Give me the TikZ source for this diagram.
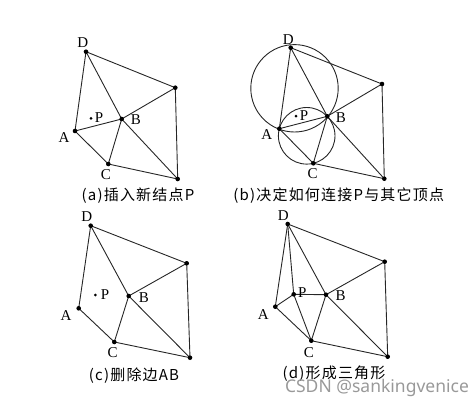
\documentclass[tikz,border=0pt]{standalone}
\usepackage{fontspec}
\setmainfont{Liberation Serif}
\newfontfamily\capfont[LetterSpace=8]{Noto Sans CJK SC}
\newfontfamily\markfont{Noto Sans}
\begin{document}
\begin{tikzpicture}[x=1pt,y=-1pt,line join=round,line cap=round]
	\tikzset{edge/.style={line width=0.9pt,black!85},
		vtx/.style={circle,fill=black,inner sep=0pt,minimum size=4.6pt},
		pdot/.style={circle,fill=black,inner sep=0pt,minimum size=3pt},
		lbl/.style={font=\fontsize{15}{15}\selectfont,inner sep=0pt},
		captxt/.style={font=\capfont\fontsize{15}{15}\selectfont,inner sep=0pt}}
	\useasboundingbox (0,0) rectangle (475,407);
	% (a) insert P
	\foreach \n/\x/\y in {D/86/51.7,E/175.3/87.7,B/121.7/119,A/75/131,C/108.3/164,F/177.7/179,P/91/118.3}
	\coordinate (a\n) at (\x,\y);
	\foreach \u/\v in {D/E,D/A,D/B,E/B,E/F,A/B,A/C,B/C,B/F,C/F}
	\draw[edge] (a\u)--(a\v);
	\foreach \n in {D,E,B,A,C,F}
	\node[vtx] (a\n dot) at (a\n) {};
	\node[pdot] (aPdot) at (aP) {};
	\foreach \n/\x/\y in {D/82.7/43,A/64/137.3,B/136/120,C/106/174.3,P/99/117.3}
	\node[lbl] (a\n lbl) at (\x,\y) {\n};
	\node[captxt] (acap) at (138,196) {(a)插入新结点P};
	% (b) circles
	\foreach \n/\x/\y in {D/290.7/47.7,E/382/84,B/327.3/116.3,A/279.3/128.7,C/313.3/163.3,F/384.3/178.7,P/296/116}
	\coordinate (b\n) at (\x,\y);
	\coordinate (bO1) at (294.5,88.3);
	\coordinate (bO2) at (306.7,135.8);
	\draw[edge] (bO1) circle[radius=43.7pt];
	\draw[edge] (bO2) circle[radius=28.3pt];
	\foreach \u/\v in {D/E,D/A,D/B,E/B,E/F,A/B,A/C,B/C,B/F,C/F}
	\draw[edge] (b\u)--(b\v);
	\foreach \n in {D,E,B,A,C,F}
	\node[vtx] (b\n dot) at (b\n) {};
	\node[pdot] (bPdot) at (bP) {};
	\foreach \n/\x/\y in {D/288.3/40,A/266.7/135,B/341/117.7,C/312.7/174,P/304/116}
	\node[lbl] (b\n lbl) at (\x,\y) {\n};
	\node[captxt] (bcap) at (338.7,196) {(b)决定如何连接P与其它顶点};
	% (c) remove AB
	\foreach \n/\x/\y in {D/90.7/225.7,E/186.7/263.3,B/128.7/296,A/78.7/308.3,C/114.3/342,F/190/357.7,P/95.3/295}
	\coordinate (c\n) at (\x,\y);
	\foreach \u/\v in {D/E,D/A,D/B,E/B,E/F,A/C,B/C,B/F,C/F}
	\draw[edge] (c\u)--(c\v);
	\foreach \n in {D,E,B,A,C,F}
	\node[vtx] (c\n dot) at (c\n) {};
	\node[pdot] (cPdot) at (cP) {};
	\foreach \n/\x/\y in {D/86.7/216.7,A/66/316,B/144/297.3,C/112.7/352.7,P/105/295}
	\node[lbl] (c\n lbl) at (\x,\y) {\n};
	\node[captxt] (ccap) at (134,376) {(c)删除边AB};
	% (d) new triangles
	\foreach \n/\x/\y in {D/287.7/224,E/384.7/261.7,B/326/294.7,A/275.3/306.7,C/311.3/340.7,F/387.7/356.7,P/293.7/294.3}
	\coordinate (d\n) at (\x,\y);
	\foreach \u/\v in {D/E,D/A,D/P,D/B,E/B,E/F,A/P,A/C,P/B,P/C,B/C,B/F,C/F}
	\draw[edge] (d\u)--(d\v);
	\foreach \n in {D,E,B,A,C,F,P}
	\node[vtx] (d\n dot) at (d\n) {};
	\foreach \n/\x/\y in {D/283.3/216,A/263.3/315,B/340.7/296,C/309/352.7,P/302.3/292.3}
	\node[lbl] (d\n lbl) at (\x,\y) {\n};
	\node[captxt] (dcap) at (334,374) {(d)形成三角形};
	\node[font=\markfont\fontsize{17.5}{17.5}\selectfont,text=black!40,inner sep=0pt] (mark) at (377,388) {CSDN @sankingvenice};
\end{tikzpicture}
\end{document}
